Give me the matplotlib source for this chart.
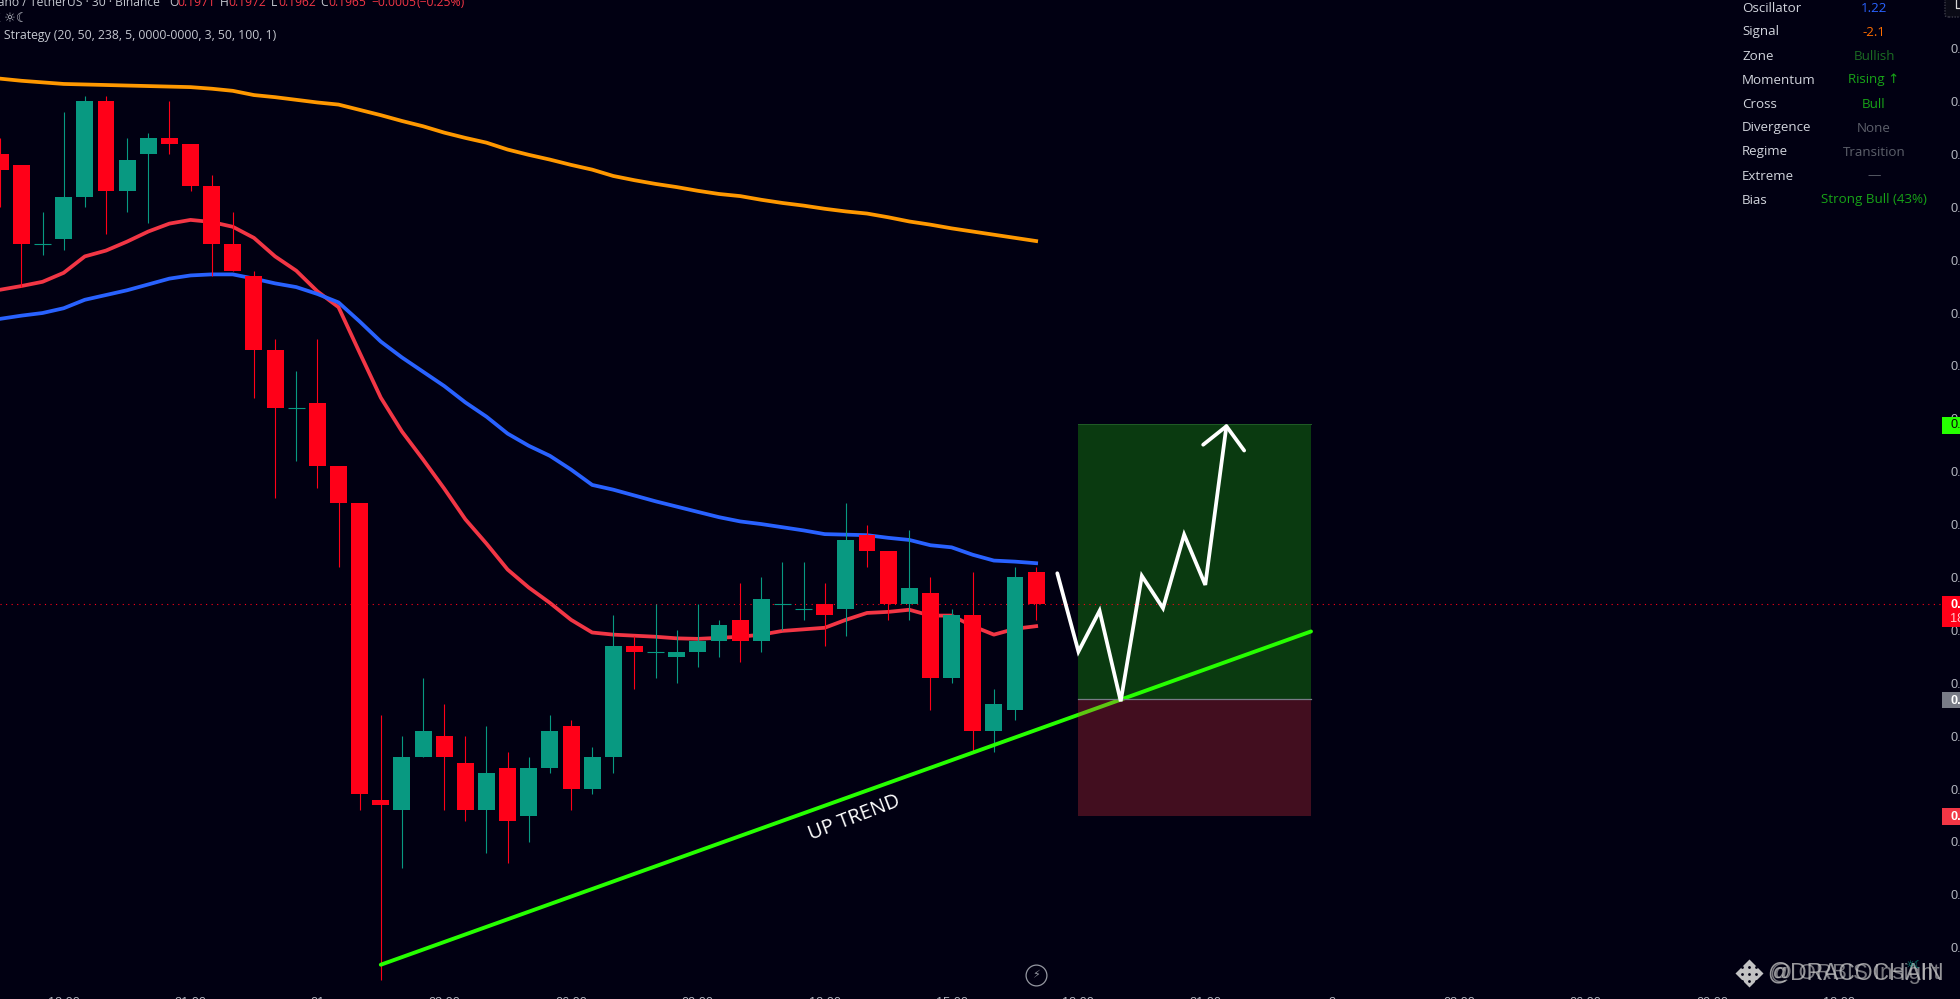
import matplotlib
matplotlib.use("Agg")
import matplotlib.pyplot as plt
from matplotlib.patches import Rectangle, FancyBboxPatch

# ADA / USDT 30 min candles, one entry per bar
opens = [.2050,.2048,.2033,.2034,.2042,.2060,.2043,.2050,.2053,.2052,
         .2044,.2033,.2027,.2013,.2002,.2003,.1991,.1984,.1928,.1926,
         .1936,.1940,.1935,.1926,.1934,.1925,.1934,.1942,.1930,.1936,
         .1957,.1956,.1955,.1956,.1958,.1962,.1958,.1965,.1964,.1965,
         .1964,.1978,.1975,.1965,.1967,.1951,.1963,.1941,.1945,.1971]
closes = [.2047,.2033,.2033,.2042,.2060,.2043,.2049,.2053,.2052,.2044,
          .2033,.2028,.2013,.2002,.2002,.1991,.1984,.1929,.1927,.1936,
          .1941,.1936,.1926,.1933,.1924,.1934,.1941,.1930,.1936,.1957,
          .1956,.1956,.1956,.1958,.1961,.1958,.1966,.1965,.1964,.1963,
          .1977,.1975,.1965,.1968,.1951,.1963,.1941,.1946,.1970,.1965]
highs = [.2053,.2048,.2039,.2058,.2061,.2061,.2053,.2054,.2060,.2052,
         .2046,.2039,.2028,.2015,.2009,.2015,.1991,.1984,.1944,.1940,
         .1951,.1946,.1940,.1942,.1937,.1936,.1944,.1943,.1938,.1963,
         .1959,.1965,.1960,.1965,.1962,.1969,.1970,.1973,.1973,.1969,
         .1984,.1980,.1975,.1979,.1970,.1964,.1971,.1949,.1972,.1972]
lows = [.2040,.2025,.2031,.2032,.2040,.2035,.2039,.2037,.2050,.2043,
        .2027,.2028,.2004,.1985,.1992,.1987,.1972,.1926,.1894,.1915,
        .1936,.1926,.1924,.1918,.1916,.1920,.1933,.1926,.1929,.1933,
        .1949,.1951,.1950,.1953,.1955,.1954,.1956,.1960,.1962,.1957,
        .1959,.1972,.1962,.1962,.1945,.1950,.1937,.1937,.1943,.1962]

# moving averages
ma_fast = [.20244,.20251,.20259,.20276,.20307,.20318,.20335,.20354,.20369,.20376,
           .20372,.20363,.20342,.20307,.20280,.20241,.20211,.20125,.20040,.19976,
           .19923,.19868,.19810,.19764,.19715,.19681,.19652,.19620,.19596,.19592,
           .19590,.19588,.19585,.19584,.19586,.19588,.19592,.19599,.19602,.19605,
           .19620,.19633,.19635,.19639,.19628,.19628,.19608,.19592,.19603,.19608]
ma_mid = [.20189,.20195,.20200,.20209,.20225,.20234,.20243,.20254,.20265,.20271,
          .20273,.20273,.20265,.20256,.20249,.20236,.20220,.20184,.20146,.20116,
          .20089,.20062,.20031,.20004,.19972,.19949,.19930,.19904,.19875,.19866,
          .19855,.19844,.19834,.19824,.19814,.19806,.19801,.19795,.19789,.19782,
          .19781,.19780,.19775,.19771,.19761,.19757,.19743,.19732,.19730,.19727]
ma_slow = [.20643,.20639,.20636,.20633,.20632,.20631,.20630,.20629,.20628,.20627,
           .20624,.20620,.20612,.20608,.20603,.20598,.20594,.20584,.20574,.20563,
           .20553,.20541,.20531,.20522,.20509,.20499,.20490,.20480,.20471,.20459,
           .20451,.20444,.20438,.20431,.20425,.20421,.20414,.20408,.20403,.20397,
           .20392,.20388,.20381,.20373,.20367,.20360,.20354,.20348,.20342,.20336]

# drawings on the chart
trend_x = [18, 62]
trend_y = [.18968, .19598]
path_x = [50, 51, 52, 53, 54, 55, 56, 57, 58]
path_y = [.19708, .19560, .19637, .19466, .19703, .19642, .19781, .19686, .19986]
head_x = [56.9, 58, 58.84]
head_y = [.19951, .19986, .19940]
box_x = [51, 62]
target, entry, stop, last_price = .1999, .1947, .1925, .1965

price_ticks = [.190 + .001 * k for k in range(18)]
time_ticks = [3, 9, 15, 21, 27, 33, 39, 45, 51, 57, 63, 69, 75, 81, 87]
time_labels = ["18:00", "21:00", "01", "03:00", "06:00", "09:00", "12:00", "15:00",
               "18:00", "21:00", "2", "03:00", "06:00", "09:00", "12:00"]

table_names = ["Oscillator", "Signal", "Zone", "Momentum", "Cross",
               "Divergence", "Regime", "Extreme", "Bias"]
table_values = ["1.22", "-2.1", "Bullish", "Rising ↑", "Bull",
                "None", "Transition", "—", "Strong Bull (43%)"]
table_colors = ["#2962ff", "#ff6d00", "#1b6b22", "#17a317", "#17a317",
                "#5d606b", "#5d606b", "#5d606b", "#17a317"]

BG = "#010012"
UP = "#089981"
DOWN = "#ff0018"
FONT = ["Open Sans", "DejaVu Sans"]
W, H = 1960, 999

plt.rcParams["font.family"] = FONT
fig = plt.figure(figsize=(W / 100, H / 100), dpi=100, facecolor=BG)
ax = fig.add_axes([0, 0, 1, 1], facecolor=BG)


def put(x, y, s, **kw):
    # text placed in screen pixels, y counted from the top
    return fig.text(x / W, 1 - y / H, s, va="center", **kw)


# position box
ax.fill_between(box_x, entry, target, color="#0a3a10", lw=0, zorder=1)
ax.plot(box_x, [target, target], color="#1f5a25", lw=0.72, zorder=1.5)

# ma lines
bars = list(range(len(opens)))
ax.plot(bars, ma_slow, color="#ff9800", lw=2.7, zorder=2)
ax.plot(bars, ma_fast, color="#f23645", lw=2.7, zorder=2)
ax.plot(bars, ma_mid, color="#2962ff", lw=2.7, zorder=2)
ax.plot([0, 91.85], [last_price, last_price], color=DOWN, lw=0.8,
        ls=(0, (1, 4)), zorder=2.5)

# candles
for i in bars:
    col = UP if closes[i] >= opens[i] else DOWN
    ax.vlines(i, lows[i], highs[i], color=col, lw=0.8, zorder=3)
    if opens[i] == closes[i]:
        ax.hlines(opens[i], i - 0.4, i + 0.4, color=col, lw=0.8, zorder=3)
    else:
        ax.bar(i, abs(closes[i] - opens[i]), 0.8, bottom=min(opens[i], closes[i]),
               color=col, lw=0, zorder=3)

# trend line goes under the stop zone
ax.plot(trend_x, trend_y, color="#26ff00", lw=2.8, zorder=4, solid_capstyle="round")
ax.fill_between(box_x, stop, entry, color="#f23645", alpha=0.27, lw=0, zorder=5)
ax.plot(box_x, [entry, entry], color="#787b86", lw=0.9, zorder=5.5)

ax.plot(path_x, path_y, color="white", lw=2.7, zorder=6, solid_joinstyle="miter",
        solid_capstyle="round")
ax.plot(head_x, head_y, color="white", lw=2.7, zorder=6, solid_capstyle="round")
ax.text(40.4, .19245, "UP TREND", color="white", fontsize=14.5, rotation=21,
        ha="center", va="center", rotation_mode="anchor", zorder=6, weight="medium")

# scales
ax.set_xlim(-0.0123, 92.7)
ax.set_ylim(.189032, .207917)
ax.yaxis.tick_right()
ax.set_yticks(price_ticks)
ax.set_yticklabels([f"{p:.4f}" for p in price_ticks], family="Liberation Sans")
ax.set_xticks(time_ticks)
ax.set_xticklabels(time_labels, family="Liberation Sans")
ax.tick_params(axis="y", length=0, pad=-7.2, labelsize=9.2, labelcolor="#b2b5be")
ax.tick_params(axis="x", length=0, pad=-1.6, labelsize=9.2, labelcolor="#b2b5be")
for side in ax.spines.values():
    side.set_visible(False)

# price tags on the right edge
tags = [(target, 417, 434, "#26ff00", "#0a0a0a"),
        (last_price, 596, 627, DOWN, "white"),
        (entry, 692, 708, "#787b86", "white"),
        (stop, 808, 825, "#f23645", "white")]
for price, y0, y1, col, txt in tags:
    fig.add_artist(Rectangle((1942 / W, 1 - y1 / H), 18 / W, (y1 - y0) / H,
                             transform=fig.transFigure, color=col, lw=0, zorder=3))
    ym = y0 + 8.5
    put(1950, ym, f"{price:.4f}", color=txt, fontsize=9.2, family="Liberation Sans",
        weight="normal" if price == target else "bold", zorder=4)
put(1950, 618.5, "18:12", color="#ffc4c8", fontsize=9.2, family="Liberation Sans", zorder=4)

# header
GREY = "#c4c7cf"
put(160, 3, "Cardano / TetherUS · 30 · Binance", color=GREY, fontsize=8.7, ha="right")
for x, s in [(169, "O"), (220, "H"), (270.7, "L"), (320, "C")]:
    put(x, 3, s, color=GREY, fontsize=8.7)
for x, s in [(177.5, "0.1971"), (228, "0.1972"), (278, "0.1962"), (328.5, "0.1965"),
             (371, "−0.0005"), (416, "(−0.25%)")]:
    put(x, 3, s, color="#f23645", fontsize=8.7)
put(28, 19, "ADX ☼☾", color=GREY, fontsize=9.5, ha="right")
put(276, 36, "Fibonacci Strategy (20, 50, 238, 5, 0000-0000, 3, 50, 100, 1)",
    color=GREY, fontsize=8.8, ha="right")

# indicator table
for k, name in enumerate(table_names):
    y = 8 + 24 * k
    put(1742, y, name, color="#d1d4dc", fontsize=9.6)
    put(1874, y, table_values[k], color=table_colors[k], fontsize=9.6, ha="center")

# top right button
fig.add_artist(FancyBboxPatch((1945 / W, 1 - 17 / H), 25 / W, 25 / H,
                              boxstyle="round,pad=0,rounding_size=0.002",
                              transform=fig.transFigure, fc="#0a0a16", ec="#3c3c48", lw=1.0,
                              ls=(0, (1, 1))))
fig.add_artist(Rectangle((1956 / W, 1 - 8 / H), 8 / W, 10 / H, transform=fig.transFigure,
                         fc="none", ec="#d8d8d8", lw=0.9))

# replay icon
fig.add_artist(plt.Line2D([1036 / W], [1 - 975 / H], marker="o", ms=15, mfc="none",
                          mec="#9598a1", mew=0.9, transform=fig.transFigure))
put(1036, 975, "⚡", color="#9598a1", fontsize=8, ha="center", family="DejaVu Sans")

# watermark
fig.add_artist(plt.Line2D([1749 / W], [1 - 973 / H], marker="D", ms=14.5, mfc="#d8d8d8",
                          mec="none", alpha=0.9, transform=fig.transFigure))
for dx in (-7, 0, 7):
    for dy in (-5, 2, 9):
        fig.add_artist(plt.Line2D([(1749 + dx) / W], [1 - (972 + dy) / H], marker="o", ms=2,
                                  mfc=BG, mec="none", transform=fig.transFigure))
put(1767, 973, "@DRACOCHAIN", color="#c8c8c8", fontsize=16.5, alpha=0.75, family="Liberation Sans")
put(1770, 973, "@ ORBIS Insight", color="#c8c8c8", fontsize=16, alpha=0.6, family="Liberation Sans")
put(1905, 965, "☼☾", color=UP, fontsize=7, family="DejaVu Sans")

fig.savefig("out.png", dpi=100, facecolor=BG)
